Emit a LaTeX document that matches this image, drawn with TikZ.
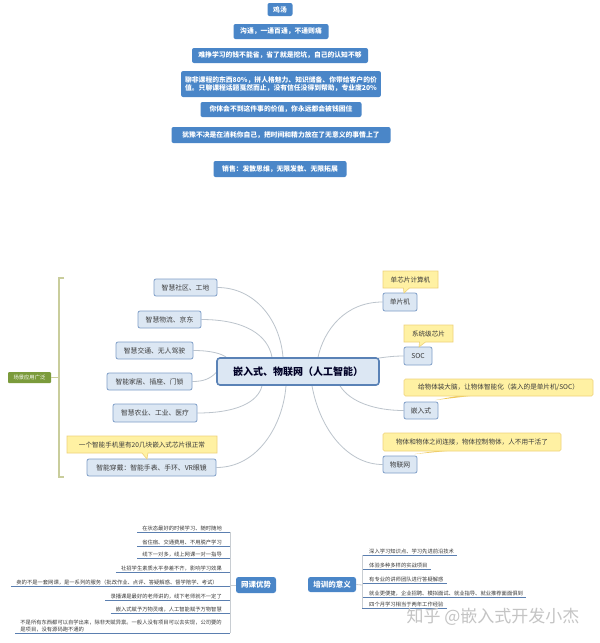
\documentclass[tikz,border=0pt]{standalone}
\usepackage{fontspec}
\setmainfont{Noto Sans CJK SC}
\usetikzlibrary{backgrounds,calc,shapes.callouts}
\definecolor{topblue}{HTML}{4A86C8}
\definecolor{nodefill}{HTML}{DCE7F3}
\definecolor{nodeline}{HTML}{7F9EC8}
\definecolor{centerline}{HTML}{5A82B6}
\definecolor{callfill}{HTML}{FFF1A3}
\definecolor{callline}{HTML}{EED27A}
\definecolor{wedgecol}{HTML}{EFC85A}
\definecolor{linkgray}{HTML}{BCC4CC}
\definecolor{bracketcol}{HTML}{C9CD9C}
\definecolor{scenegreen}{HTML}{7B9B3B}
\definecolor{ulblue}{HTML}{5B7FB0}
\definecolor{vgray}{HTML}{C8CDD2}
\definecolor{wmgray}{HTML}{C4C4C4}
\definecolor{txtgray}{HTML}{3A3A3A}
\tikzset{
  topbox/.style={fill=topblue, rounded corners=2pt, text=white,
    font=\fontsize{6.8}{8.6}\selectfont\bfseries, inner xsep=4pt, inner ysep=0pt,
    minimum height=15pt, align=center},
  mapnode/.style={fill=nodefill, draw=nodeline, line width=0.8pt, rounded corners=2pt,
    font=\fontsize{6.8}{8}\selectfont, text=txtgray, minimum height=17pt, inner xsep=4pt, inner ysep=0pt},
  centernode/.style={fill=nodefill, draw=centerline, line width=1.6pt, rounded corners=3pt,
    font=\fontsize{10}{12}\selectfont\bfseries, text=black!75!blue!60!black, minimum width=162pt, minimum height=27pt},
  callbox/.style={rectangle callout, fill=callfill, draw=callline, line width=0.6pt,
    font=\fontsize{6.6}{8}\selectfont, text=txtgray, minimum height=17pt, inner xsep=4pt, inner ysep=0pt,
    callout pointer width=6pt},
  plainbox/.style={fill=callfill, draw=callline, line width=0.6pt, rounded corners=1.5pt,
    font=\fontsize{6.6}{8}\selectfont, text=txtgray, minimum height=17pt, inner xsep=4pt, inner ysep=0pt},
  link/.style={draw=linkgray, line width=0.8pt},
  blockhead/.style={fill=topblue, rounded corners=2.5pt, text=white,
    font=\fontsize{7.5}{9}\selectfont\bfseries, inner xsep=4pt, inner ysep=0pt, minimum height=16pt},
  item/.style={font=\fontsize{5.3}{7}\selectfont, text=txtgray, inner xsep=0pt, inner ysep=1pt},
  uline/.style={draw=ulblue, line width=0.8pt},
  vline/.style={draw=vgray, line width=0.8pt},
}
\begin{document}
\begin{tikzpicture}[x=1pt,y=-1pt]
\useasboundingbox (0,0) rectangle (600,643);

% ---------- top section ----------
\node[topbox, minimum width=25pt, minimum height=13pt] (t1) at (280,9.5) {鸡汤};
\node[topbox, minimum width=95pt] (t2) at (281,31.5) {沟通，一通百通，不通则痛};
\node[topbox, minimum width=176pt] (t3) at (280,55.5) {难挣学习的钱不能省，省了就是挖坑，自己的认知不够};
\node[topbox, minimum width=194pt, minimum height=26pt, align=left] (t4) at (281,84)
  {聊非课程的东西80\%，拼人格魅力、知识储备、你带给客户的价\\值。只聊课程话题戛然而止，没有信任没得到帮助，专业度20\%};
\node[topbox, minimum width=161pt] (t5) at (281,109.5) {你体会不到这件事的价值，你永远都会被钱困住};
\node[topbox, minimum width=219pt, minimum height=16pt] (t6) at (281,135) {犹豫不决是在消耗你自己，把时间和精力放在了无意义的事情上了};
\node[topbox, minimum width=133pt, minimum height=16pt] (t7) at (280,169) {销售：发散思维，无限发散、无限拓展};

% ---------- mind map ----------
\node[centernode] (c) at (298,371.5) {嵌入式、物联网（人工智能）};

\node[mapnode, minimum width=63pt] (l1) at (185.5,287.5) {智慧社区、工地};
\node[mapnode, minimum width=63pt] (l2) at (169.5,319.5) {智慧物流、京东};
\node[mapnode, minimum width=77pt] (l3) at (154.5,350.5) {智慧交通、无人驾驶};
\node[mapnode, minimum width=85pt] (l4) at (149.5,381.5) {智能家居、插座、门锁};
\node[mapnode, minimum width=84pt, minimum height=18pt] (l5) at (155,413) {智慧农业、工业、医疗};
\node[mapnode, minimum width=129pt] (l6) at (151.5,467.5) {智能穿戴：智能手表、手环、VR眼镜};
\node[callbox, minimum width=150pt, callout absolute pointer={(147,459)}] (k6) at (142,444.5) {一个智能手机里有20几块嵌入式芯片很正常};

\node[mapnode, minimum width=34pt, minimum height=18pt] (r1) at (400,302) {单片机};
\node[callbox, minimum width=55pt, callout absolute pointer={(404,293)}] (k1) at (410.5,279.5) {单芯片计算机};
\node[mapnode, minimum width=28pt, minimum height=18pt] (r2) at (418,356) {SOC};
\node[callbox, minimum width=49pt, callout absolute pointer={(419,347)}] (k2) at (428.5,333.5) {系统级芯片};
\node[mapnode, minimum width=34pt] (r3) at (421,410.5) {嵌入式};
\node[plainbox, minimum width=189pt] (k3) at (498.5,387.5) {给物体装大脑，让物体智能化（装入的是单片机/SOC）};
\node[mapnode, minimum width=34pt] (r4) at (400,464.5) {物联网};
\node[plainbox, minimum width=178pt, minimum height=18pt] (k4) at (472,442) {物体和物体之间连接，物体控制物体，人不用干活了};

% scene label and bracket
\node[fill=scenegreen, rounded corners=1pt, text=white, font=\fontsize{5.3}{6}\selectfont,
  minimum width=43pt, minimum height=11pt, inner sep=0pt] (scene) at (29.5,377.5) {场景应用广泛};
\coordinate (bt) at (59,278);
\coordinate (bb) at (59,477);
\coordinate (bm) at (59,377.5);
\draw[draw=bracketcol, line width=1.3pt] ($(bt)+(5,0)$) -- (bt) -- (bb) -- ($(bb)+(5,0)$);
\draw[draw=bracketcol, line width=1.3pt] (scene.east) -- (bm);

\begin{scope}[on background layer]
  \fill[white] (0,0) rectangle (600,643);
  \path[link] (l1.east) .. controls (255,287.5) and (280,320) .. ([xshift=-15pt]c.north);
  \path[link] (l2.east) .. controls (245,319.5) and (268,335) .. ([xshift=-26pt]c.north);
  \path[link] (l3.east) .. controls (212,350.5) and (222,354) .. ([xshift=10pt]c.north west);
  \path[link] (l4.east) .. controls (203,381.5) and (210,379) .. ([yshift=-1pt]c.west);
  \path[link] (l5.east) .. controls (237,413) and (258,402) .. ([xshift=-36pt]c.south);
  \path[link] (l6.east) .. controls (258,467.5) and (283,425) .. ([xshift=-12pt]c.south);
  \path[link] (r1.west) .. controls (345,302) and (324,330) .. ([xshift=20pt]c.north);
  \path[link] (r2.west) .. controls (394,356) and (386,357) .. ([xshift=-2pt,yshift=-1pt]c.north east);
  \path[link] (r3.west) .. controls (375,410.5) and (350,402) .. ([xshift=42pt]c.south);
  \path[link] (r4.west) .. controls (348,464.5) and (320,430) .. ([xshift=14pt]c.south);
  \fill[wedgecol] ([xshift=-3pt,yshift=1.5pt]r3.north east) -- (457,396) -- (470,396) -- cycle;
  \fill[wedgecol] ([xshift=-3pt,yshift=1.5pt]r4.north east) -- (436,451) -- (447,451) -- cycle;
\end{scope}

% ---------- 网课优势 ----------
\node[blockhead, minimum width=40pt] (wk) at (256,585) {网课优势};
\node[item, anchor=south east] (w1) at (222,532) {在状态最好的时候学习、随时随地};
\node[item, anchor=south east] (w2) at (222,546) {省住宿、交通费用、不用脱产学习};
\node[item, anchor=south east] (w3) at (222,558) {线下一对多，线上网课一对一指导};
\node[item, anchor=south east] (w4) at (222,572) {社招学生素质水平参差不齐，影响学习效果};
\node[item, anchor=south east] (w5) at (218,586) {卖的不是一套网课，是一系列的服务（批改作业、点评、答疑解惑、督学陪学、考试）};
\node[item, anchor=south east] (w6) at (222,600) {录播课是最好的老师讲的，线下老师就不一定了};
\node[item, anchor=south east] (w7) at (222,613) {嵌入式赋予万物灵魂，人工智能赋予万物智慧};
\node[item, anchor=south east, align=left, font=\fontsize{5.3}{7}\selectfont] (w8) at (222,633)
  {不是所有东西都可以自学出来，除非天赋异禀。一般人没有项目可以去实现，公司要的\\是项目，没有源码跑不通的};
\coordinate (wv) at (230,585);
\foreach \n in {w1,w2,w3,w4,w5,w6,w7,w8}{
  \draw[uline] ([xshift=-5pt]\n.south west) -- (\n.south -| wv);
}
\draw[vline] (w1.south -| wv) -- (w8.south -| wv);
\draw[vline] (wv) -- (wk.west);

% ---------- 培训的意义 ----------
\node[blockhead, minimum width=48pt, minimum height=15pt] (px) at (332,584.5) {培训的意义};
\coordinate (pv) at (362,585);
\node[item, anchor=south west] (p1) at (369,555) {深入学习知识点、学习先进前沿技术};
\node[item, anchor=south west] (p2) at (369,569) {体验多种多样的实战项目};
\node[item, anchor=south west] (p3) at (369,583) {有专业的讲师团队进行答疑解惑};
\node[item, anchor=south west] (p4) at (369,597) {就业更便捷，企业招聘、模拟面试、就业指导、就业推荐面面俱到};
\node[item, anchor=south west] (p5) at (369,608) {四个月学习相当于两年工作经验};
\foreach \n in {p1,p2,p3,p4,p5}{
  \draw[uline] (\n.south -| pv) -- ([xshift=3pt]\n.south east);
}
\draw[vline] (p1.south -| pv) -- (p5.south -| pv);
\draw[vline] (px.east) -- (pv);

% watermark
\node[text=wmgray, font=\fontsize{17}{20}\selectfont, inner sep=0pt] (wm) at (493,617) {知乎 @嵌入式开发小杰};
\end{tikzpicture}
\end{document}
